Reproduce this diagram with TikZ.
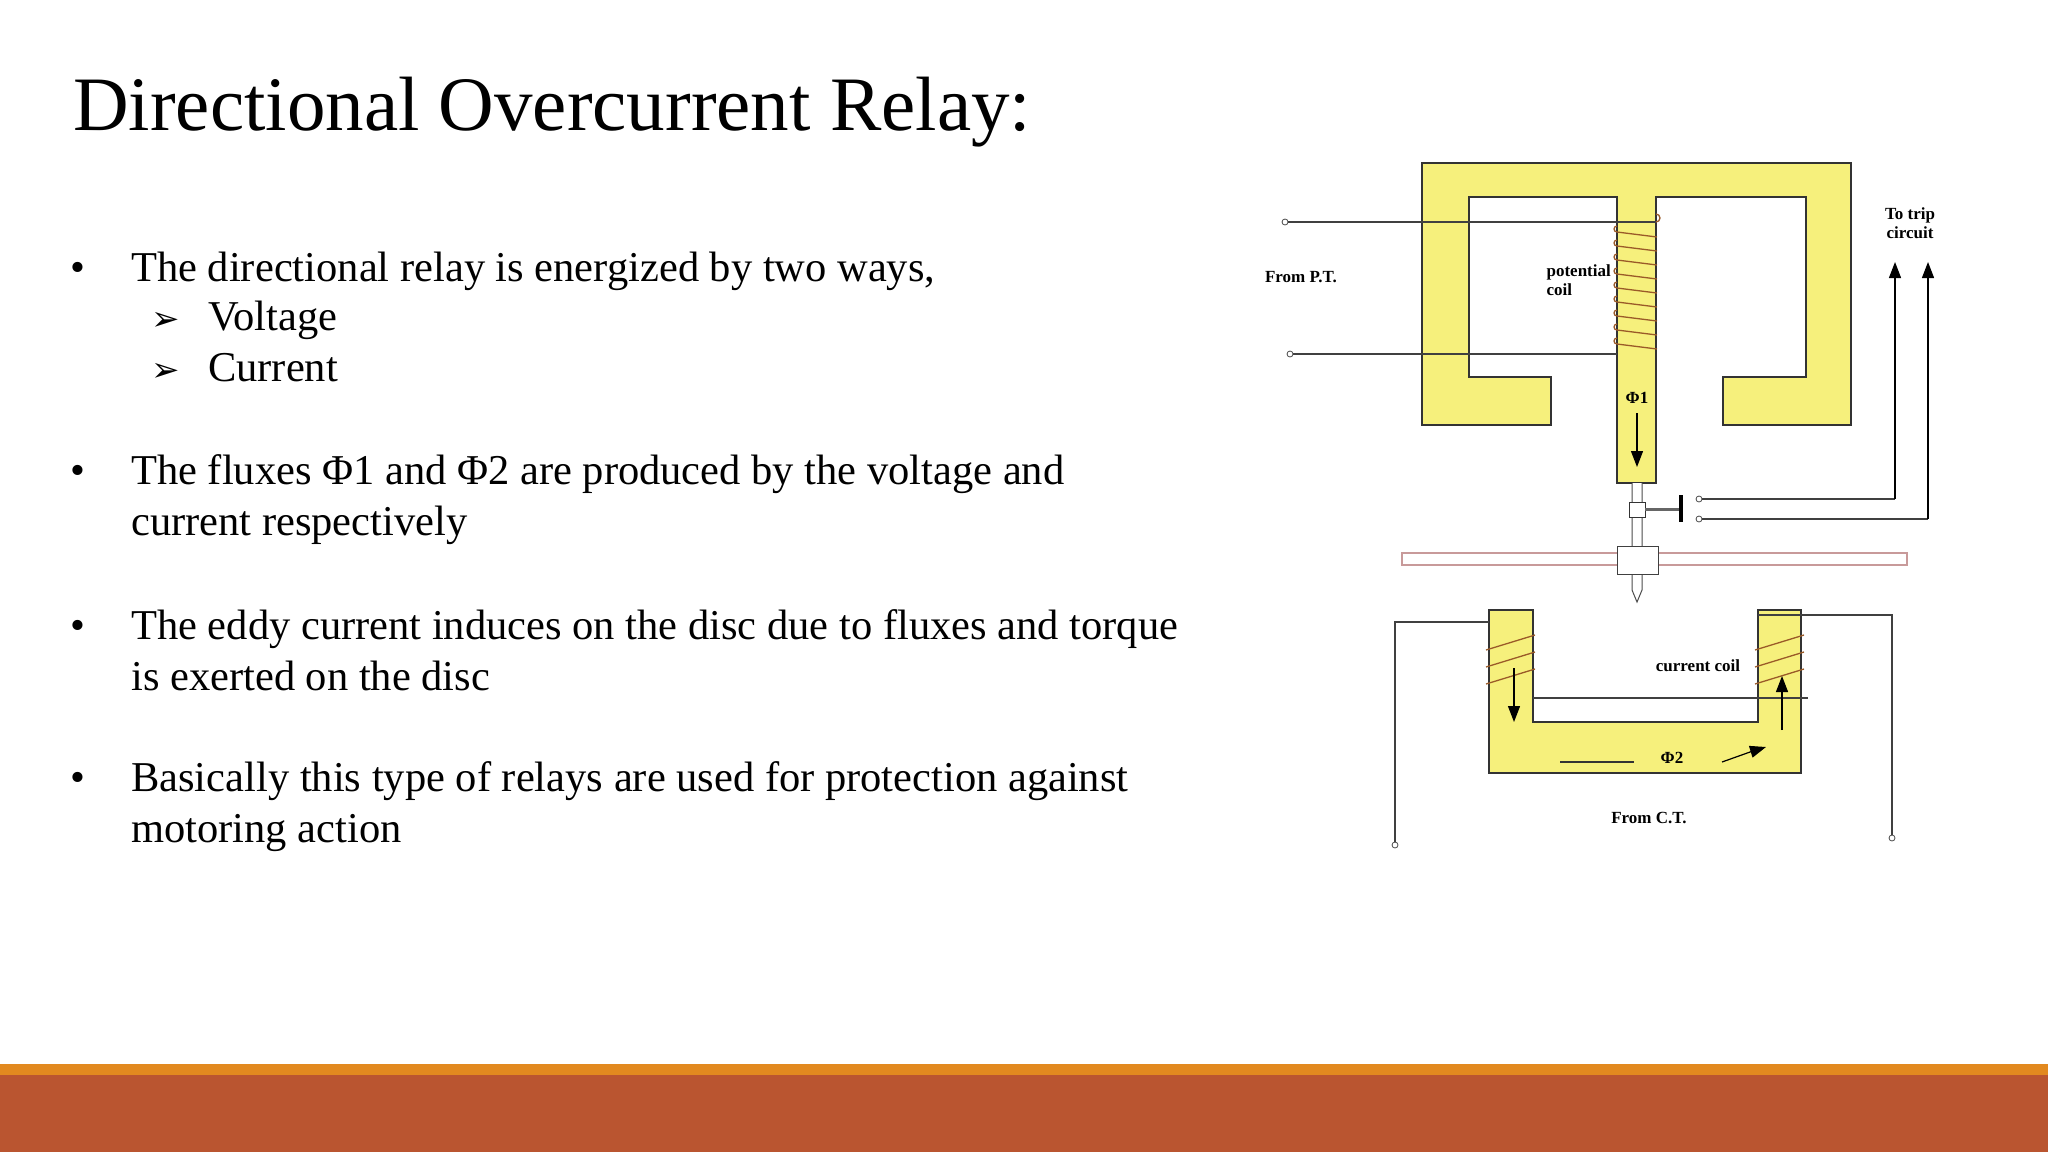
\documentclass[tikz,border=0pt]{standalone}
\usepackage{fontspec}
\setmainfont{Liberation Serif}
\newfontfamily\djv{DejaVu Sans}
\usetikzlibrary{arrows.meta}
\definecolor{coreY}{HTML}{F6F07C}
\definecolor{barO}{HTML}{E2891F}
\definecolor{barR}{HTML}{BA5530}
\definecolor{coilC}{HTML}{9A5A28}
\definecolor{discC}{HTML}{C89A9A}
\tikzset{
 core/.style={fill=coreY,draw=black!80,line width=1.3pt},
 wire/.style={draw=black!75,line width=1.2pt},
 term/.style={circle,draw=black!70,fill=white,inner sep=0pt,minimum size=6pt,line width=0.8pt},
 body/.style={font=\fontsize{42.5}{50}\selectfont,anchor=base west,inner sep=0pt},
 lbl/.style={font=\fontsize{17}{19}\selectfont\bfseries,inner sep=0pt,align=left},
 flux/.style={-{Triangle[width=12pt,length=16pt]},line width=1.2pt},
 coil/.style={draw=coilC,line width=1.3pt}
}
\begin{document}
\begin{tikzpicture}[x=1pt,y=-1pt]
\useasboundingbox (0,0) rectangle (2048,1152);
\fill[white] (0,0) rectangle (2048,1152);
% text
\node[body,font=\fontsize{77}{86}\selectfont] (title) at (73,130) {Directional Overcurrent Relay:};
\node[body] (b1) at (70,281) {•};
\node[body] (t1) at (131,281) {The directional relay is energized by two ways,};
\node[body] (s1) at (151,330) {\djv\fontsize{34}{40}\selectfont ➢};
\node[body] (t1a) at (208,330) {Voltage};
\node[body] (s2) at (151,381) {\djv\fontsize{34}{40}\selectfont ➢};
\node[body] (t1b) at (208,381) {Current};
\node[body] (b2) at (70,484) {•};
\node[body] (t2) at (131,484) {The fluxes Φ1 and Φ2 are produced by the voltage and};
\node[body] (t2b) at (131,535) {current respectively};
\node[body] (b3) at (70,639) {•};
\node[body] (t3) at (131,639) {The eddy current induces on the disc due to fluxes and torque};
\node[body] (t3b) at (131,690) {is exerted on the disc};
\node[body] (b4) at (70,791) {•};
\node[body] (t4) at (131,791) {Basically this type of relays are used for protection against};
\node[body] (t4b) at (131,842) {motoring action};
% bottom bars
\fill[barO] (0,1064) rectangle (2048,1075);
\fill[barR] (0,1075) rectangle (2048,1152);
% upper magnet
\draw[core] (1422,163) -- (1851,163) -- (1851,425) -- (1723,425) -- (1723,377) -- (1806,377) -- (1806,197) -- (1656,197) -- (1656,483) -- (1617,483) -- (1617,197) -- (1469,197) -- (1469,377) -- (1551,377) -- (1551,425) -- (1422,425) -- cycle;
\foreach \y in {232,246,...,345} {\draw[coil] (1617,\y) -- (1657,\y+5);
  \draw[coil] (1617,\y) arc[start angle=90,end angle=270,radius=3];}
\draw[coil] (1656,222) arc[start angle=90,end angle=-90,radius=4];
\node[term] (pt1) at (1285,222) {};
\node[term] (pt2) at (1290,354) {};
\coordinate (c1) at (1656,222);
\coordinate (c2) at (1617,354);
\draw[wire] (pt1) -- (c1);
\draw[wire] (pt2) -- (c2);
\node[lbl] (fpt) at (1301,277) {From P.T.};
\node[lbl,anchor=east] (pc) at (1611,280) {potential\\coil};
\node[lbl] (phi1) at (1637,398) {Φ1};
\coordinate (a1s) at (1637,413); \coordinate (a1e) at (1637,467);
\draw[flux] (a1s) -- (a1e);
% shaft
\draw[black!70,line width=1pt,fill=white] (1632,483) -- (1632,590) -- (1637,602) -- (1642,590) -- (1642,483);
\draw[black!80,line width=1pt,fill=white] (1629,502) rectangle (1645,517);
\draw[black!60,line width=3pt] (1645,509) -- (1681,509);
\draw[black,line width=3.5pt] (1681,495) -- (1681,522);
\node[term] (k1) at (1699,499) {};
\node[term] (k2) at (1699,519) {};
\coordinate (tr1) at (1895,499); \coordinate (tr2) at (1928,519);
\coordinate (ta1) at (1895,262); \coordinate (ta2) at (1928,262);
\draw[wire] (k1) -- (tr1); \draw[flux] (tr1) -- (ta1);
\draw[wire] (k2) -- (tr2); \draw[flux] (tr2) -- (ta2);
\node[lbl,align=center] (trip) at (1910,223) {To trip\\circuit};
% disc
\draw[discC,line width=1.2pt,fill=white] (1402,553) rectangle (1907,565);
\draw[black!75,line width=1pt,fill=white] (1617,546) rectangle (1658,574);
% lower magnet
\draw[core] (1489,610) -- (1533,610) -- (1533,722) -- (1758,722) -- (1758,610) -- (1801,610) -- (1801,773) -- (1489,773) -- cycle;
\foreach \y in {645,662,679} {\draw[coil] (1486,\y+5) -- (1535,\y-10);
 \draw[coil] (1755,\y+5) -- (1804,\y-10);}
\draw[wire] (1533,698) -- (1808,698);
\node[term] (ct1) at (1395,845) {};
\node[term] (ct2) at (1892,838) {};
\coordinate (w1) at (1395,622); \coordinate (w1e) at (1489,622);
\coordinate (w2) at (1892,615); \coordinate (w2e) at (1758,615);
\draw[wire] (ct1) -- (w1) -- (w1e);
\draw[wire] (ct2) -- (w2) -- (w2e);
\coordinate (a2s) at (1514,668); \coordinate (a2e) at (1514,722);
\draw[flux] (a2s) -- (a2e);
\coordinate (a3s) at (1782,730); \coordinate (a3e) at (1782,676);
\draw[flux] (a3s) -- (a3e);
\draw[black!80,line width=1.2pt] (1560,762) -- (1634,762);
\node[lbl] (phi2) at (1672,758) {Φ2};
\coordinate (a4s) at (1722,762); \coordinate (a4e) at (1766,747);
\draw[flux] (a4s) .. controls (1737,756) .. (a4e);
\node[lbl] (cc) at (1698,666) {current coil};
\node[lbl] (fct) at (1649,818) {From C.T.};
\end{tikzpicture}
\end{document}
